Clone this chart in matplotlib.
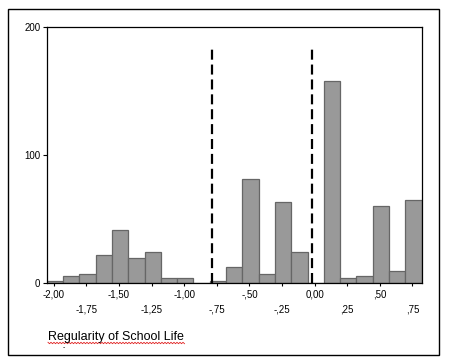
import numpy as np
import matplotlib
matplotlib.use("Agg")
import matplotlib.pyplot as plt
from matplotlib.patches import Rectangle
from matplotlib.lines import Line2D

# Data
bin_start = -2.054
bin_width = 0.125
counts = [1, 5, 7, 22, 41, 19, 24, 4, 4, 0, 1, 12, 81, 7, 63, 24, 0, 158, 4, 5, 60, 9, 65]
cut_points = [-0.787, -0.018]
cut_top = 184
tick_values = [-2.0, -1.75, -1.5, -1.25, -1.0, -0.75, -0.5, -0.25, 0.0, 0.25, 0.5, 0.75]
tick_labels = ["-2,00", "-1,75", "-1,50", "-1,25", "-1,00", "-,75", "-,50", "-,25",
               "0,00", ",25", ",50", ",75"]
y_ticks = [0, 100, 200]
title = "Regularity of School Life"

plt.rcParams['font.family'] = ['Liberation Sans', 'DejaVu Sans']

W, H = 449, 361
fig = plt.figure(figsize=(W / 100, H / 100), dpi=100)

# outer frame
fig.patches.append(Rectangle((8.3 / W, 1 - 355 / H), (439.3 - 8.3) / W, (355 - 9.3) / H,
                             transform=fig.transFigure, fill=False, edgecolor='black',
                             linewidth=1.0))

ax = fig.add_axes([46.7 / W, 1 - 282.7 / H, (421.7 - 46.7) / W, (282.7 - 27.3) / H])

edges = bin_start + bin_width * np.arange(len(counts) + 1)
ax.bar(edges[:-1], counts, width=bin_width, align='edge', color='#999999',
       edgecolor='#666666', linewidth=0.9)

for c in cut_points:
    ax.plot([c, c], [0, cut_top], color='black', linewidth=1.6, dashes=(4.5, 2.2),
            solid_capstyle='butt', dash_capstyle='butt')

ax.set_xlim(edges[0], edges[-1])
ax.set_ylim(0, 200)

for s in ax.spines.values():
    s.set_linewidth(0.9)
    s.set_color('black')

ax.set_yticks(y_ticks)
ax.set_yticklabels([str(v) for v in y_ticks], fontsize=7)
ax.tick_params(axis='y', length=3, width=0.8, pad=1.5)

major = tick_values[0::2]
minor = tick_values[1::2]
ax.set_xticks(major)
ax.set_xticklabels(tick_labels[0::2], fontsize=7)
ax.set_xticks(minor, minor=True)
ax.set_xticklabels(tick_labels[1::2], minor=True, fontsize=7)
ax.tick_params(axis='x', which='major', length=2, width=0.8, pad=3)
ax.tick_params(axis='x', which='minor', length=2, width=0.8, pad=14)

fig.text(48 / W, 1 - 340 / H, title, fontsize=9, ha='left', va='baseline')

# spell-check squiggle under title
xs = np.arange(48, 185, 1.5)
ys = 343 + np.where(np.arange(len(xs)) % 2 == 0, -0.7, 0.7)
fig.lines.append(Line2D(xs / W, 1 - ys / H, transform=fig.transFigure,
                        color='#e02020', linewidth=0.6))
fig.text(63 / W, 1 - 349 / H, "-", fontsize=5, ha='left', va='baseline')

fig.savefig("out.png", dpi=100)
